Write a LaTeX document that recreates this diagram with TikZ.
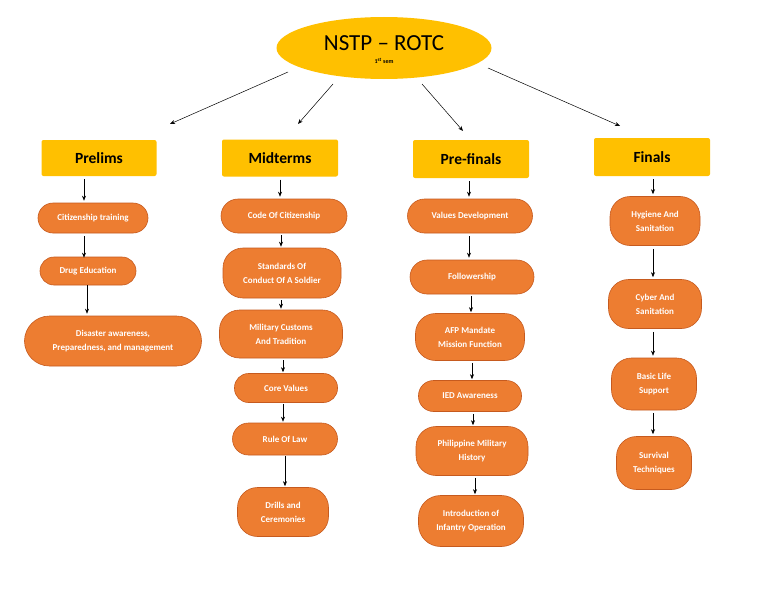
\documentclass[tikz,border=0pt]{standalone}
\usepackage{fontspec}
\setmainfont{Carlito}
\usetikzlibrary{shapes.geometric,arrows.meta}
\definecolor{org}{HTML}{ED7D31}
\definecolor{orgd}{HTML}{C65A1E}
\definecolor{yel}{HTML}{FFC000}
\begin{document}
\begin{tikzpicture}[x=1pt,y=-1pt,
  box/.style={draw=orgd,line width=0.6pt,fill=org,text=white,font=\bfseries\fontsize{9}{14}\selectfont,align=center,inner sep=0pt},
  hdr/.style={fill=yel,font=\bfseries\fontsize{15.5}{17}\selectfont,inner sep=0pt,rounded corners=2pt},
  arr/.style={-{Stealth[length=5pt,width=4pt]},line width=0.5pt,shorten <=3pt,shorten >=2pt}]
\useasboundingbox (0,0) rectangle (768,594);
\fill[white] (0,0) rectangle (768,594);
\node[ellipse,fill=yel,minimum width=215pt,minimum height=62pt,inner sep=0pt] (top) at (384,48) {};
\node[font=\fontsize{23}{26}\selectfont] (tt) at (384,43) {NSTP -- ROTC};
\node[font=\bfseries\fontsize{6}{7}\selectfont] (ts) at (384,61) {1\textsuperscript{st} sem};
\coordinate (a1) at (288,72);
\coordinate (a2) at (333,84);
\coordinate (a3) at (422,84);
\coordinate (a4) at (488,68);
\coordinate (e1) at (170,124);
\coordinate (e2) at (298,124);
\coordinate (e3) at (463,131);
\coordinate (e4) at (620,126);
% headers
\node[hdr,minimum width=115pt,minimum height=36pt] (h1) at (99,158) {Prelims};
\node[hdr,minimum width=116pt,minimum height=37pt] (h2) at (280,158) {Midterms};
\node[hdr,minimum width=116pt,minimum height=38pt] (h3) at (471,159) {Pre-finals};
\node[hdr,minimum width=116pt,minimum height=38pt] (h4) at (652,157) {Finals};
\draw[arr,shorten <=0pt,shorten >=0pt] (a1) -- (e1);
\draw[arr,shorten <=0pt,shorten >=0pt] (a2) -- (e2);
\draw[arr,shorten <=0pt,shorten >=0pt] (a3) -- (e3);
\draw[arr,shorten <=0pt,shorten >=0pt] (a4) -- (e4);
% prelims
\node[box,minimum width=110pt,minimum height=30pt,rounded corners=15pt] (p1) at (93,218) {Citizenship training};
\node[box,minimum width=96pt,minimum height=28pt,rounded corners=14pt] (p2) at (88,271) {Drug Education};
\node[box,minimum width=177pt,minimum height=50pt,rounded corners=25pt] (p3) at (113,341) {Disaster awareness,\\Preparedness, and management};
\draw[arr] (h1.south -| 84,0) -- (p1.north -| 84,0);
\draw[arr] (p1.south -| 84,0) -- ([yshift=-3pt]p2.north -| 84,0);
\draw[arr] ([yshift=3pt]p2.south -| 87,0) -- (p3.north -| 87,0);
% midterms
\node[box,minimum width=126pt,minimum height=34pt,rounded corners=17pt] (m1) at (284,216) {Code Of Citizenship};
\node[box,minimum width=118pt,minimum height=50pt,rounded corners=20pt] (m2) at (282,273) {Standards Of\\Conduct Of A Soldier};
\node[box,minimum width=123pt,minimum height=48pt,rounded corners=20pt] (m3) at (281,334) {Military Customs\\And Tradition};
\node[box,minimum width=103pt,minimum height=29pt,rounded corners=14pt] (m4) at (286,388) {Core Values};
\node[box,minimum width=105pt,minimum height=32pt,rounded corners=16pt] (m5) at (285,439) {Rule Of Law};
\node[box,minimum width=91pt,minimum height=49pt,rounded corners=20pt] (m6) at (283,512) {Drills and\\Ceremonies};
\draw[arr] (h2.south -| 280,0) -- (m1.north -| 280,0);
\draw[arr,shorten <=2pt,shorten >=1pt] (m1.south -| 281,0) -- (m2.north -| 281,0);
\draw[arr,shorten <=2pt,shorten >=1pt] (m2.south -| 281,0) -- (m3.north -| 281,0);
\draw[arr,shorten <=2pt,shorten >=1pt] (m3.south -| 283,0) -- (m4.north -| 283,0);
\draw[arr,shorten <=1pt,shorten >=1pt] (m4.south -| 283,0) -- (m5.north -| 283,0);
\draw[arr,shorten <=1pt,shorten >=1pt] (m5.south -| 285,0) -- (m6.north -| 285,0);
% pre-finals
\node[box,minimum width=125pt,minimum height=34pt,rounded corners=17pt] (q1) at (470,216) {Values Development};
\node[box,minimum width=124pt,minimum height=34pt,rounded corners=17pt] (q2) at (472,277) {Followership};
\node[box,minimum width=109pt,minimum height=47pt,rounded corners=20pt] (q3) at (470,337) {AFP Mandate\\Mission Function};
\node[box,minimum width=103pt,minimum height=31pt,rounded corners=15pt] (q4) at (470,396) {IED Awareness};
\node[box,minimum width=112pt,minimum height=49pt,rounded corners=20pt] (q5) at (472,451) {Philippine Military\\History};
\node[box,minimum width=105pt,minimum height=51pt,rounded corners=22pt] (q6) at (471,521) {Introduction of\\Infantry Operation};
\draw[arr] (h3.south -| 469,0) -- (q1.north -| 469,0);
\draw[arr] (q1.south -| 469,0) -- (q2.north -| 469,0);
\draw[arr,shorten <=2pt,shorten >=1pt] (q2.south -| 471,0) -- (q3.north -| 471,0);
\draw[arr,shorten <=2pt,shorten >=1pt] (q3.south -| 472,0) -- (q4.north -| 472,0);
\draw[arr,shorten <=2pt,shorten >=1pt] (q4.south -| 473,0) -- (q5.north -| 473,0);
\draw[arr,shorten <=2pt,shorten >=1pt] (q5.south -| 475,0) -- (q6.north -| 475,0);
% finals
\node[box,minimum width=90pt,minimum height=49pt,rounded corners=20pt] (f1) at (655,221) {Hygiene And\\Sanitation};
\node[box,minimum width=93pt,minimum height=49pt,rounded corners=20pt] (f2) at (655,304) {Cyber And\\Sanitation};
\node[box,minimum width=85pt,minimum height=52pt,rounded corners=20pt] (f3) at (654,384) {Basic Life\\Support};
\node[box,minimum width=75pt,minimum height=53pt,rounded corners=20pt] (f4) at (654,463) {Survival\\Techniques};
\draw[arr] (h4.south -| 653,0) -- (f1.north -| 653,0);
\draw[arr] (f1.south -| 653,0) -- (f2.north -| 653,0);
\draw[arr] (f2.south -| 653,0) -- (f3.north -| 653,0);
\draw[arr] (f3.south -| 653,0) -- (f4.north -| 653,0);
\end{tikzpicture}
\end{document}
